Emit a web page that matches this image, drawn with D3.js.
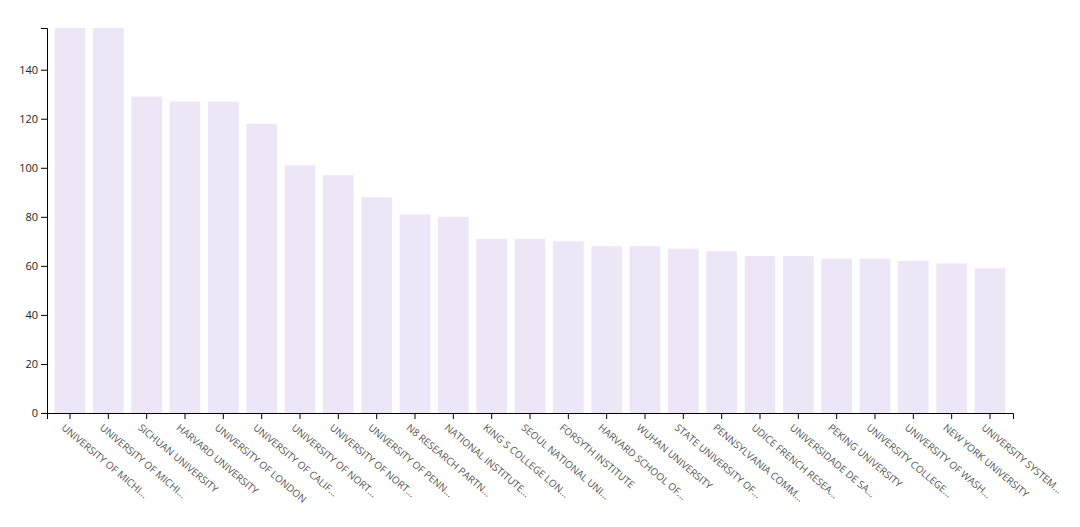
<!DOCTYPE html>
<html lang="en">
<head>
<meta charset="utf-8">
<style>
  html, body { margin: 0; padding: 0; background: #fff; }
  .axis text { font-family: "Open Sans", sans-serif; font-size: 11px; fill: #222; }
  .xaxis text { font-size: 10px; fill: #555; }
</style>
</head>
<body>
<div id="chart"></div>
<script src="https://d3js.org/d3.v7.min.js"></script>
<script>
var labels = ["UNIVERSITY OF MICHI…", "UNIVERSITY OF MICHI…", "SICHUAN UNIVERSITY", "HARVARD UNIVERSITY",
  "UNIVERSITY OF LONDON", "UNIVERSITY OF CALIF…", "UNIVERSITY OF NORT…", "UNIVERSITY OF NORT…",
  "UNIVERSITY OF PENN…", "N8 RESEARCH PARTN…", "NATIONAL INSTITUTE…", "KING S COLLEGE LON…",
  "SEOUL NATIONAL UNI…", "FORSYTH INSTITUTE", "HARVARD SCHOOL OF…", "WUHAN UNIVERSITY",
  "STATE UNIVERSITY OF…", "PENNSYLVANIA COMM…", "UDICE FRENCH RESEA…", "UNIVERSIDADE DE SA…",
  "PEKING UNIVERSITY", "UNIVERSITY COLLEGE…", "UNIVERSITY OF WASH…", "NEW YORK UNIVERSITY",
  "UNIVERSITY SYSTEM…"];
var counts = [157, 157, 129, 127, 127, 118, 101, 97, 88, 81, 80, 71, 71, 70, 68, 68, 67, 66, 64, 64, 63, 63, 62, 61, 59];
var yTicks = [0, 20, 40, 60, 80, 100, 120, 140];

var W = 1080, H = 527;
var m = {top: 28, right: 67, bottom: 114, left: 47};
var w = W - m.left - m.right, h = H - m.top - m.bottom;

var svg = d3.select("#chart").append("svg").attr("width", W).attr("height", H);
var g = svg.append("g").attr("transform", "translate(" + m.left + "," + m.top + ")");

var x = d3.scaleBand().domain(d3.range(labels.length)).range([0, w]).paddingInner(0.2).paddingOuter(0.2);
var y = d3.scaleLinear().domain([0, 157]).range([h, 0]);

g.selectAll("rect").data(counts).enter().append("rect")
  .attr("x", function(d, i) { return x(i); })
  .attr("y", function(d) { return y(d); })
  .attr("width", x.bandwidth())
  .attr("height", function(d) { return h - y(d); })
  .attr("fill", "#ede6f7");

g.append("g").attr("class", "axis")
  .call(d3.axisLeft(y).tickValues(yTicks).tickSizeOuter(6));

var xa = g.append("g").attr("class", "axis xaxis")
  .attr("transform", "translate(0," + h + ")")
  .call(d3.axisBottom(x).tickFormat(function(i) { return labels[i]; }).tickSizeOuter(6));
xa.selectAll("text")
  .attr("text-anchor", "start")
  .attr("dx", "0.3em").attr("dy", "0.9em")
  .attr("transform", "rotate(40)");
</script>
</body>
</html>
